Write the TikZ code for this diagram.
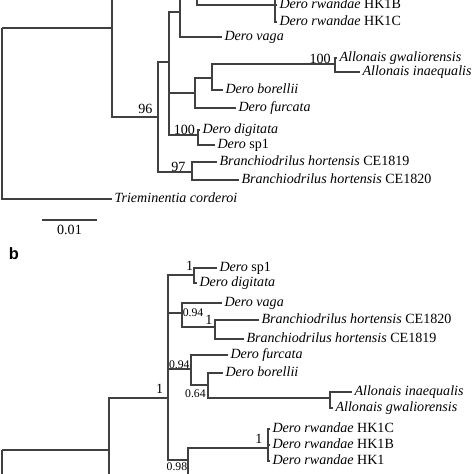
\documentclass[tikz,border=0pt]{standalone}
\usepackage{fontspec}
\setmainfont{Liberation Serif}
\setsansfont{Liberation Sans}
\usetikzlibrary{positioning}

\begin{document}
\begin{tikzpicture}[
    x=0.03cm,
    y=-0.03cm,
    branch/.style={draw=black!75,line width=0.9pt},
    leaf/.style={anchor=west,inner xsep=2pt,inner ysep=0pt,text height=7pt,text depth=1pt,font=\fontsize{12}{14}\selectfont},
    support/.style={inner sep=0.5pt,font=\fontsize{12}{14}\selectfont},
    small support/.style={inner sep=0.5pt,font=\fontsize{10}{12}\selectfont},
    panel/.style={font=\sffamily\bfseries\fontsize{14}{16}\selectfont}
]
\clip (0,0) rectangle (474,474);

% Arbol a
\coordinate (a0) at (2,28);
\coordinate (a1) at (112,28);
\coordinate (a1up) at (140,-20);
\coordinate (a2) at (158,117);
\coordinate (a3) at (169,62);
\coordinate (a4) at (192,172);
\coordinate (a5) at (180,12);
\coordinate (a6) at (195,93);
\coordinate (a7) at (198,135);
\coordinate (a8) at (197,-8);
\coordinate (a8up) at (230,-25);
\coordinate (a9) at (275,5);
\coordinate (a9up) at (278,-15);
\coordinate (a10) at (212,78);
\coordinate (a11) at (335,64);

\node[leaf] (ahk1b) at (277,5) {\textit{Dero rwandae} HK1B};
\node[leaf] (ahk1c) at (277,22) {\textit{Dero rwandae} HK1C};
\node[leaf] (avaga) at (222,37) {\textit{Dero vaga}};
\node[leaf] (agwal) at (337,58) {\textit{Allonais gwaliorensis}};
\node[leaf] (ainaeq) at (360,72) {\textit{Allonais inaequalis}};
\node[leaf] (abor) at (223,90) {\textit{Dero borellii}};
\node[leaf] (afurc) at (236,108) {\textit{Dero furcata}};
\node[leaf] (adig) at (200,130) {\textit{Dero digitata}};
\node[leaf] (asp1) at (215,145) {\textit{Dero} sp1};
\node[leaf] (abh19) at (217,162) {\textit{Branchiodrilus hortensis} CE1819};
\node[leaf] (abh20) at (239,180) {\textit{Branchiodrilus hortensis} CE1820};
\node[leaf] (atrie) at (112,199) {\textit{Trieminentia corderoi}};

\draw[branch] (a0) |- (a1);
\draw[branch] (a0) |- (atrie.west);
\draw[branch] (a1) |- (a1up);
\draw[branch] (a1) |- (a2);
\draw[branch] (a2) |- (a3);
\draw[branch] (a2) |- (a4);
\draw[branch] (a3) |- (a5);
\draw[branch] (a3) |- (a6);
\draw[branch] (a3) |- (a7);
\draw[branch] (a5) |- (a8);
\draw[branch] (a5) |- (avaga.west);
\draw[branch] (a8) |- (a8up);
\draw[branch] (a8) |- (a9);
\draw[branch] (a9) |- (a9up);
\draw[branch] (a9) |- (ahk1b.west);
\draw[branch] (a9) |- (ahk1c.west);
\draw[branch] (a6) |- (a10);
\draw[branch] (a6) |- (afurc.west);
\draw[branch] (a10) |- (a11);
\draw[branch] (a10) |- (abor.west);
\draw[branch] (a11) |- (agwal.west);
\draw[branch] (a11) |- (ainaeq.west);
\draw[branch] (a7) |- (adig.west);
\draw[branch] (a7) |- (asp1.west);
\draw[branch] (a4) |- (abh19.west);
\draw[branch] (a4) |- (abh20.west);

% Soporte a
\node[support, above left=2pt and 4pt of a2] (s96) {96};
\node[support, above left=0pt and 5pt of a4] (s97) {97};
\node[support, above left=0pt and 2pt of a7] (s100a) {100};
\node[support, above left=0pt and 3pt of a11] (s100b) {100};

% Escala
\coordinate (sbl) at (42,220);
\coordinate (sbr) at (97,220);
\coordinate (sbmid) at (69.5,220);
\draw[branch] (sbl) -- (sbr);
\node[support, below=3.5pt of sbmid] (scale) {0.01};

% Arbol b
\node[panel] (lb) at (14,254) {b};

\coordinate (rb) at (2,450);
\coordinate (rbdown) at (30,520);
\coordinate (b1) at (109,450);
\coordinate (b1down) at (140,520);
\coordinate (b2) at (168,398);
\coordinate (b3) at (194,275);
\coordinate (b4) at (182,313);
\coordinate (b5) at (191,369);
\coordinate (b6) at (188,460);
\coordinate (b6down) at (220,520);
\coordinate (b7) at (215,327);
\coordinate (b8) at (208,385);
\coordinate (b9) at (330,398);
\coordinate (b10) at (268,448);

\node[leaf] (bsp1) at (217,268) {\textit{Dero} sp1};
\node[leaf] (bdig) at (197,283) {\textit{Dero digitata}};
\node[leaf] (bvaga) at (222,303) {\textit{Dero vaga}};
\node[leaf] (bbh20) at (259,320) {\textit{Branchiodrilus hortensis} CE1820};
\node[leaf] (bbh19) at (244,339) {\textit{Branchiodrilus hortensis} CE1819};
\node[leaf] (bfurc) at (228,355) {\textit{Dero furcata}};
\node[leaf] (bbor) at (223,373) {\textit{Dero borellii}};
\node[leaf] (binaeq) at (352,392) {\textit{Allonais inaequalis}};
\node[leaf] (bgwal) at (333,408) {\textit{Allonais gwaliorensis}};
\node[leaf] (bhk1c) at (270,429) {\textit{Dero rwandae} HK1C};
\node[leaf] (bhk1b) at (270,445) {\textit{Dero rwandae} HK1B};
\node[leaf] (bhk1) at (270,461) {\textit{Dero rwandae} HK1};

\draw[branch] (rb) |- (b1);
\draw[branch] (rb) |- (rbdown);
\draw[branch] (b1) |- (b2);
\draw[branch] (b1) |- (b1down);
\draw[branch] (b2) |- (b3);
\draw[branch] (b2) |- (b4);
\draw[branch] (b2) |- (b5);
\draw[branch] (b2) |- (b6);
\draw[branch] (b3) |- (bsp1.west);
\draw[branch] (b3) |- (bdig.west);
\draw[branch] (b4) |- (bvaga.west);
\draw[branch] (b4) |- (b7);
\draw[branch] (b7) |- (bbh20.west);
\draw[branch] (b7) |- (bbh19.west);
\draw[branch] (b5) |- (bfurc.west);
\draw[branch] (b5) |- (b8);
\draw[branch] (b8) |- (bbor.west);
\draw[branch] (b8) |- (b9);
\draw[branch] (b9) |- (binaeq.west);
\draw[branch] (b9) |- (bgwal.west);
\draw[branch] (b6) |- (b10);
\draw[branch] (b6) |- (b6down);
\draw[branch] (b10) |- (bhk1c.west);
\draw[branch] (b10) |- (bhk1b.west);
\draw[branch] (b10) |- (bhk1.west);

% Soporte b
\node[support, above left=3.5pt and 3.5pt of b2] (t1a) {1};
\node[support, above left=3.5pt and 0pt of b3] (t1b) {1};
\node[small support, right=0pt of b4] (t094a) {0.94};
\node[support, above left=1.3pt and 1.5pt of b7] (t1c) {1};
\node[small support, above left=0pt and 0.5pt of b5] (t094b) {0.94};
\node[small support, below left=3pt and 1.3pt of b8] (t064) {0.64};
\node[small support, below left=2pt and 0pt of b6] (t098) {0.98};
\node[support, above left=3.5pt and 4pt of b10] (t1d) {1};

\end{tikzpicture}
\end{document}
